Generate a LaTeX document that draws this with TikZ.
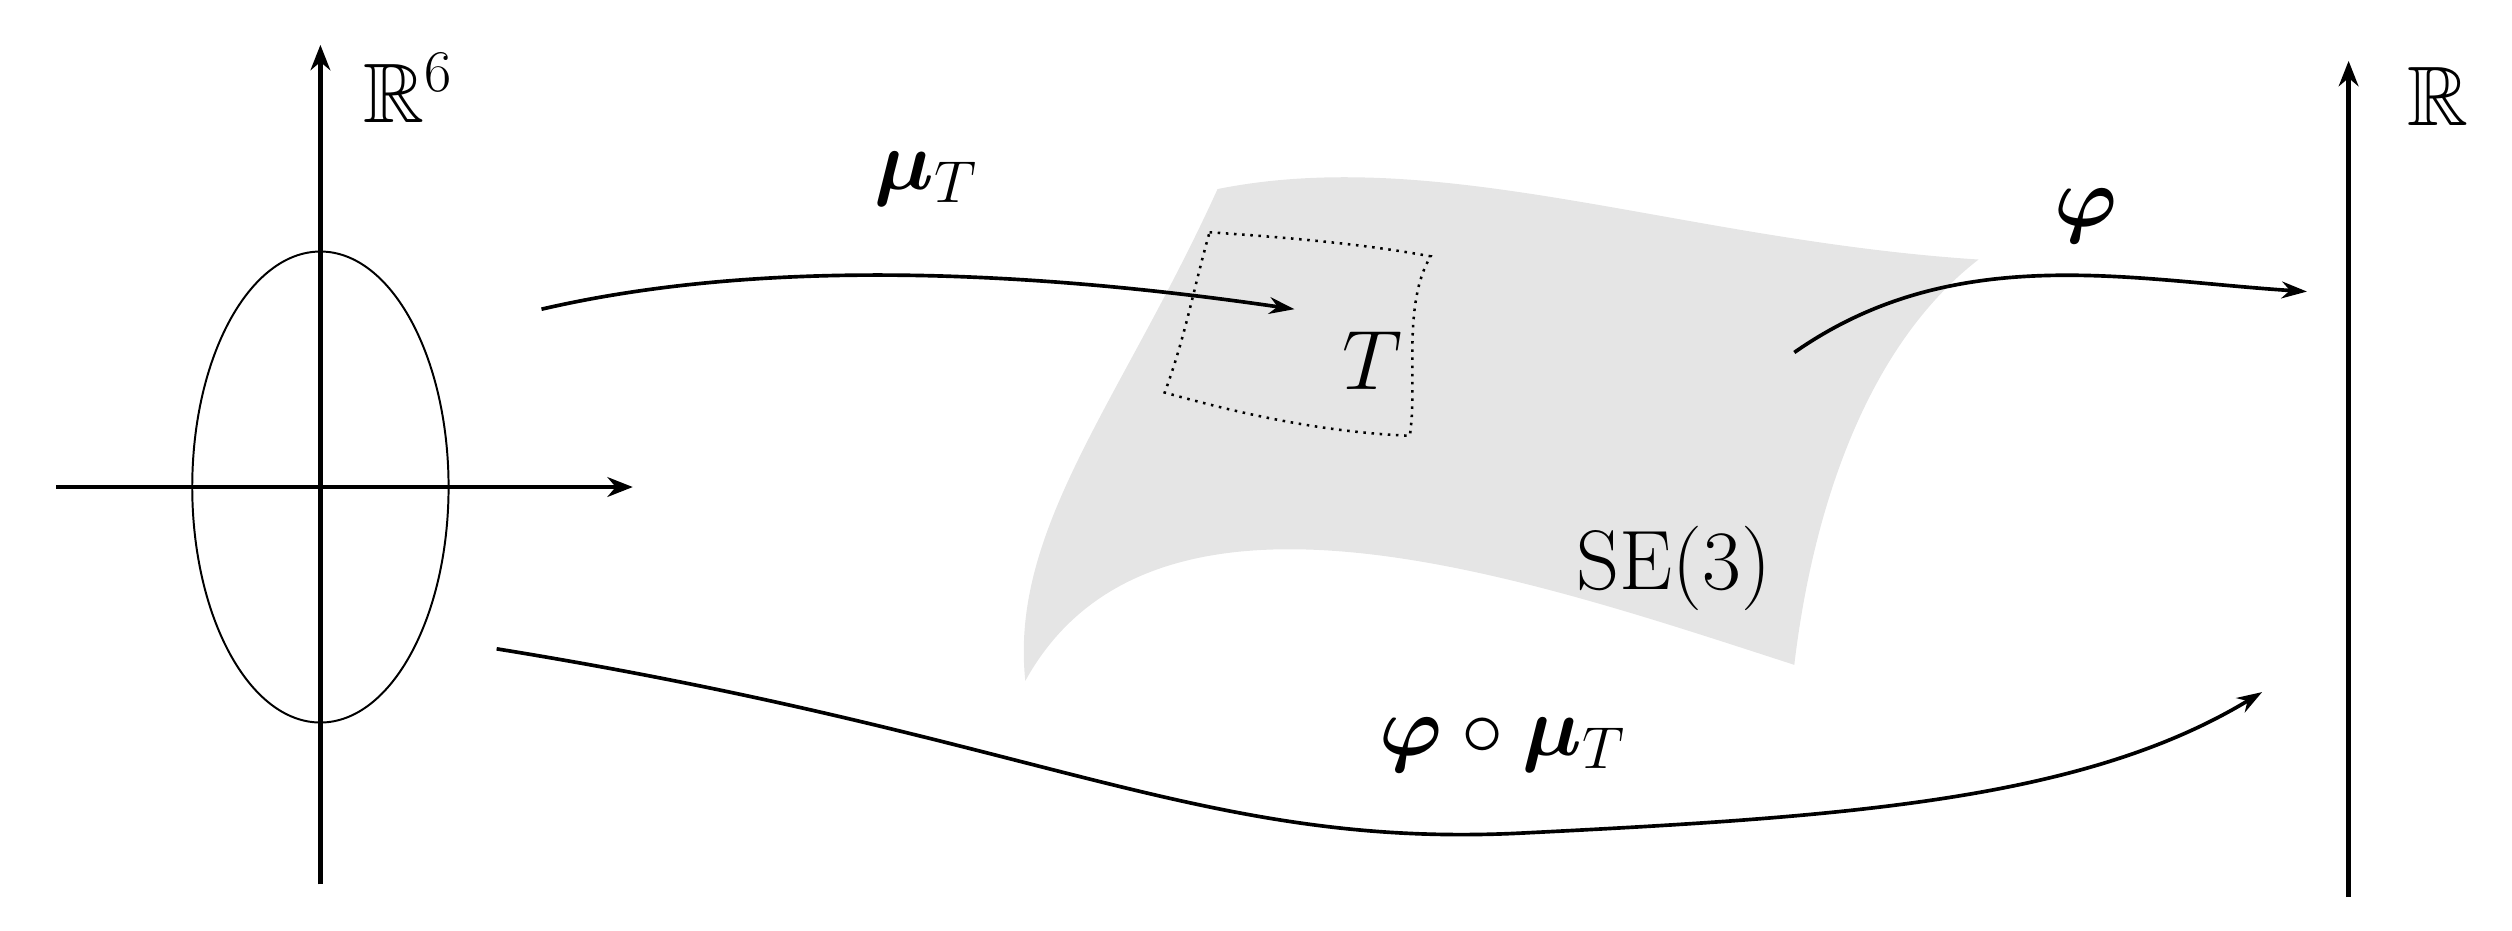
\documentclass[tikz,border=0pt]{standalone}
\usetikzlibrary{arrows.meta}
\usepackage{fix-cm}
\usepackage{amsmath,amssymb,bm}
\begin{document}
\begin{tikzpicture}[x=0.02cm,y=-0.02cm,
  ax/.style={line width=1.6pt,-{Stealth[length=9pt,width=7pt]}},
  arr/.style={line width=1.3pt,-{Stealth[length=9pt,width=6pt]}},
  lab/.style={font=\fontsize{30}{34}\selectfont}]
\useasboundingbox (0,0) rectangle (1568,581);
% surface
\fill[black!10] (760,118) .. controls (900,90) and (1050,150) .. (1235,162)
  .. controls (1160,220) and (1130,330) .. (1120,415)
  .. controls (950,360) and (720,280) .. (640,425)
  .. controls (630,330) and (700,250) .. (760,118) -- cycle;
\draw[dotted,line width=0.9pt] (755,145) .. controls (800,148) and (850,152) .. (893,160)
  .. controls (875,190) and (885,240) .. (880,272)
  .. controls (830,270) and (780,260) .. (727,245)
  .. controls (740,210) and (745,180) .. (755,145);
\node[lab] (t) at (857,225) {$T$};
\node[lab] (se) at (1045,355) {SE$(3)$};
% left axes
\coordinate (lb) at (200,552); \coordinate (lt) at (200,28);
\coordinate (hl) at (35,304); \coordinate (hr) at (395,304);
\draw[ax] (lb) -- (lt);
\draw[ax] (hl) -- (hr);
\draw[line width=0.7pt] (200,304) ellipse [x radius=80, y radius=147];
\node[lab] (r6) at (255,55) {$\mathbb{R}^6$};
% right axis
\coordinate (rb) at (1466,560); \coordinate (rt) at (1466,38);
\draw[ax] (rb) -- (rt);
\node[lab] (r) at (1522,60) {$\mathbb{R}$};
% arrows
\coordinate (a1) at (338,193); \coordinate (a2) at (808,193);
\draw[arr] (a1) .. controls (480,160) and (650,170) .. (a2);
\node[lab] (mu) at (578,112) {$\bm{\mu}_T$};
\coordinate (b1) at (1120,220); \coordinate (b2) at (1440,182);
\draw[arr] (b1) .. controls (1220,150) and (1330,175) .. (b2);
\node[lab] (phi) at (1302,135) {$\bm{\varphi}$};
\coordinate (c1) at (310,405); \coordinate (c2) at (1412,432);
\draw[arr] (c1) .. controls (650,460) and (750,530) .. (950,520)
  .. controls (1150,510) and (1300,500) .. (c2);
\node[lab] (comp) at (938,465) {$\bm{\varphi}\circ\bm{\mu}_T$};
\end{tikzpicture}
\end{document}
